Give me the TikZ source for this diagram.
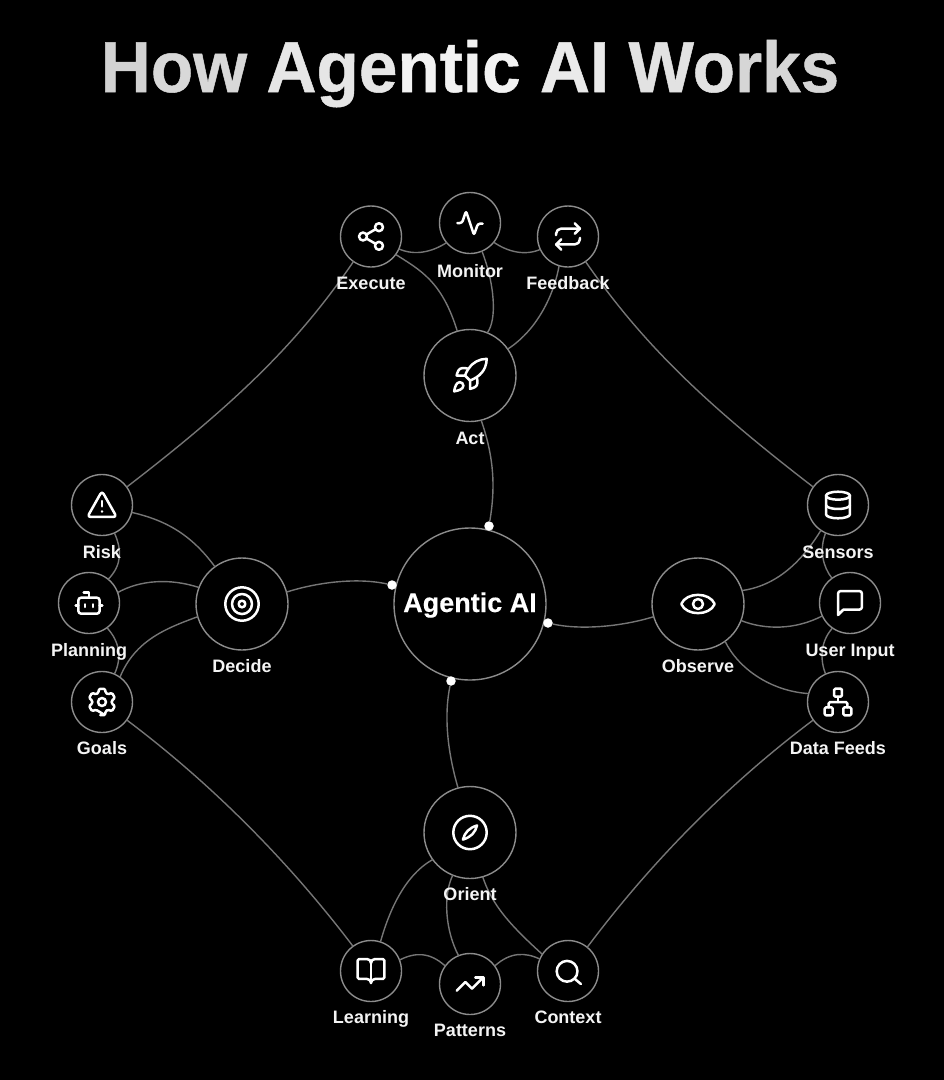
\documentclass[tikz,border=0pt]{standalone}
\usepackage{fontspec}
\setmainfont{Liberation Sans}
\definecolor{ringc}{HTML}{8C8C8C}
\definecolor{linkc}{HTML}{767676}
\definecolor{labelc}{HTML}{F4F4F4}
\newcommand{\drawicon}[3]{\begin{scope}[shift={(#1)},x=#2pt,y=-#2pt,shift={(-12,-12)},glyph]#3\end{scope}}
\tikzset{
  ring/.style={circle,draw=ringc,line width=1.4pt,inner sep=0pt,outer sep=0pt},
  core/.style={ring,minimum size=152pt},
  hub/.style={ring,minimum size=92pt},
  leaf/.style={ring,minimum size=61pt},
  link/.style={draw=linkc,line width=1.4pt},
  dotmark/.style={circle,fill=white,inner sep=0pt,minimum size=9.5pt},
  lab/.style={anchor=base,inner sep=0pt,text=labelc,font=\fontsize{18}{20}\selectfont\bfseries},
  glyph/.style={draw=white,line width=2.5pt,line cap=round,line join=round},
}
\begin{document}
\begin{tikzpicture}[x=1pt,y=-1pt]
\fill[black] (0,0) rectangle (944,1080);
\useasboundingbox (0,0) rectangle (944,1080);
% title
\node[anchor=base,inner sep=0pt,xscale=.963,font=\fontsize{72}{80}\selectfont\bfseries\addfontfeature{FakeBold=0.7}] (title) at (470,92)
 {\textcolor[HTML]{D2D2D2}{H}\textcolor[HTML]{D8D8D8}{ow} \textcolor[HTML]{E6E6E6}{Age}\textcolor[HTML]{F2F2F2}{ntic} \textcolor[HTML]{EAEAEA}{AI} \textcolor[HTML]{E2E2E2}{Wo}\textcolor[HTML]{D6D6D6}{rks}};
% circles
\node[core] (agent) at (470,604) {};
\node[hub] (act) at (470,375.5) {};
\node[hub] (observe) at (698,604) {};
\node[hub] (decide) at (242,604) {};
\node[hub] (orient) at (470,832.5) {};
\node[leaf] (execute) at (371,236.5) {};
\node[leaf] (monitor) at (470,223) {};
\node[leaf] (feedback) at (568,236.5) {};
\node[leaf] (risk) at (102,505) {};
\node[leaf] (planning) at (89,603) {};
\node[leaf] (goals) at (102,702) {};
\node[leaf] (sensors) at (838,505) {};
\node[leaf] (userinput) at (850,603) {};
\node[leaf] (datafeeds) at (838,702) {};
\node[leaf] (learning) at (371,971) {};
\node[leaf] (patterns) at (470,984) {};
\node[leaf] (context) at (568,971) {};
% dots
\node[dotmark] (d1) at (489,526) {};
\node[dotmark] (d2) at (392,585) {};
\node[dotmark] (d3) at (548,623) {};
\node[dotmark] (d4) at (451,681) {};
% connectors: hubs to centre
\draw[link] (d1) .. controls (495,490) and (495,460) .. (act.-76);
\draw[link] (d2) .. controls (355,577) and (315,583) .. (decide.15);
\draw[link] (d3) .. controls (580,630) and (620,627) .. (observe.196);
\draw[link] (d4) .. controls (444,715) and (447,750) .. (orient.105);
% act group
\draw[link] (act.106.5) .. controls (442,281) and (420,270) .. (execute.-36);
\draw[link] (act.68) .. controls (497,320) and (495,285) .. (monitor.-67.5);
\draw[link] (act.35) .. controls (540,328) and (555,290) .. (feedback.-107);
\draw[link] (execute.-24) .. controls (415,256) and (432,252) .. (monitor.220);
\draw[link] (monitor.-39) .. controls (508,252) and (525,256) .. (feedback.205);
% decide group
\draw[link] (risk.-14.5) .. controls (165,520) and (191,534) .. (decide.126);
\draw[link] (planning.20) .. controls (140,580) and (170,578) .. (decide.159);
\draw[link] (goals.54) .. controls (135,640) and (167,628) .. (decide.196);
\draw[link] (risk.-66) .. controls (122,550) and (122,565) .. (planning.51);
\draw[link] (planning.-54) .. controls (120,642) and (122,658) .. (goals.66);
% observe group
\draw[link] (observe.17) .. controls (781,585) and (805,556) .. (sensors.236);
\draw[link] (observe.-21) .. controls (765,630) and (795,630) .. (userinput.205);
\draw[link] (observe.-54) .. controls (738,668) and (770,691) .. (datafeeds.164);
\draw[link] (sensors.246) .. controls (819,550) and (823,567) .. (userinput.126);
\draw[link] (userinput.235) .. controls (820,642) and (820,660) .. (datafeeds.114);
% orient group
\draw[link] (orient.216) .. controls (403,876) and (388,915) .. (learning.72);
\draw[link] (orient.248) .. controls (443,895) and (445,930) .. (patterns.112);
\draw[link] (orient.-74) .. controls (492,905) and (510,925) .. (context.147);
\draw[link] (learning.21) .. controls (415,952) and (430,952) .. (patterns.144);
\draw[link] (patterns.36) .. controls (510,952) and (525,952) .. (context.157);
% outer links
\draw[link] (execute.235) .. controls (300,340) and (240,400) .. (risk.36);
\draw[link] (feedback.-55) .. controls (640,340) and (700,400) .. (sensors.144);
\draw[link] (goals.-36) .. controls (200,775) and (280,850) .. (learning.126);
\draw[link] (datafeeds.216) .. controls (740,775) and (660,850) .. (context.51);
% labels
\node[anchor=base,inner sep=0pt,text=white,font=\fontsize{27}{30}\selectfont\bfseries\addfontfeature{FakeBold=0.3}] (tagent) at (470,612) {Agentic AI};
\node[lab] (lact) at (470,444) {Act};
\node[lab] (ldecide) at (242,672) {Decide};
\node[lab] (lobserve) at (698,672) {Observe};
\node[lab] (lorient) at (470,900) {Orient};
\node[lab] (lexecute) at (371,289) {Execute};
\node[lab] (lmonitor) at (470,277) {Monitor};
\node[lab] (lfeedback) at (568,289) {Feedback};
\node[lab] (lrisk) at (102,558) {Risk};
\node[lab] (lplanning) at (89,656) {Planning};
\node[lab] (lgoals) at (102,754) {Goals};
\node[lab] (lsensors) at (838,558) {Sensors};
\node[lab] (luserinput) at (850,656) {User Input};
\node[lab] (ldatafeeds) at (838,754) {Data Feeds};
\node[lab] (llearning) at (371,1023) {Learning};
\node[lab] (lpatterns) at (470,1036) {Patterns};
\node[lab] (lcontext) at (568,1023) {Context};
% icons
\drawicon{act}{1.67}{
 \draw (4.5,16.5) .. controls (3,17.76) and (2.5,21.5) .. (2.5,21.5) .. controls (2.5,21.5) and (6.24,21) .. (7.5,19.5) .. controls (8.21,18.66) and (8.2,17.37) .. (7.41,16.59) .. controls (6.6,15.8) and (5.3,15.8) .. cycle;
 \draw (12,15) -- (9,12) .. controls (9.5,10.6) and (10.2,9.3) .. (11,8.05) .. controls (13.3,4.4) and (17.5,2) .. (22,2) .. controls (22,4.72) and (21.22,9.5) .. (16,13) .. controls (14.7,13.8) and (13.4,14.5) .. cycle;
 \draw (9,12) -- (4,12) .. controls (4,12) and (4.55,8.97) .. (6,8) .. controls (7.62,6.92) and (11,8) .. (11,8);
 \draw (12,15) -- (12,20) .. controls (12,20) and (15.03,19.45) .. (16,18) .. controls (17.08,16.38) and (16,13) .. (16,13);
}
\drawicon{decide}{1.67}{
 \draw (12,12) circle (10);
 \draw (12,12) circle (6);
 \draw (12,12) circle (2);
}
\drawicon{observe}{1.67}{
 \draw (2,12) .. controls (5,4.7) and (19,4.7) .. (22,12) .. controls (19,19.3) and (5,19.3) .. cycle;
 \draw (12,12) circle (3);
}
\drawicon{orient}{1.67}{
 \draw (12,12) circle (10);
 \draw (16.24,7.76) .. controls (15.2,12) and (12.5,14.8) .. (7.76,16.24) .. controls (8.8,12) and (11.5,9.2) .. cycle;
}
\drawicon{execute}{1.33}{
 \draw (18,5) circle (3);
 \draw (6,12) circle (3);
 \draw (18,19) circle (3);
 \draw (8.59,13.51) -- (15.42,17.49);
 \draw (15.41,6.51) -- (8.59,10.49);
}
\drawicon{monitor}{1.33}{
 \draw[rounded corners=2.2pt] (21.5,12.5) -- (18,12.5) -- (15,21) -- (9,3) -- (6,12) -- (2.5,12);
}
\drawicon{feedback}{1.33}{
 \draw (17,2) -- (21,6) -- (17,10);
 \draw (3,11) -- (3,10) .. controls (3,7.8) and (4.8,6) .. (7,6) -- (21,6);
 \draw (7,22) -- (3,18) -- (7,14);
 \draw (21,13) -- (21,14) .. controls (21,16.2) and (19.2,18) .. (17,18) -- (3,18);
}
\drawicon{risk}{1.33}{
 \draw[rounded corners=3.2pt] (12,1.5) -- (23,21) -- (1,21) -- cycle;
 \draw (12,9) -- (12,13);
 \draw (12,17) -- (12.01,17);
}
\drawicon{planning}{1.33}{
 \draw (12,8) -- (12,4) -- (8,4);
 \draw[rounded corners=2.7pt] (4,8) rectangle (20,20);
 \draw (2,14) -- (4,14);
 \draw (20,14) -- (22,14);
 \draw (15,13) -- (15,15);
 \draw (9,13) -- (9,15);
}
\drawicon{goals}{1.33}{
 \draw (12,12) circle (3);
 \begin{scope}[shift={(12,12)}]
 \draw[rounded corners=1.3pt] (77:10.2) \foreach \a in {90,30,-30,-90,-150,-210} { -- (\a+13:10.2) -- (\a-13:10.2) -- (\a-21:7.4) -- (\a-39:7.4) } -- cycle;
 \end{scope}
}
\drawicon{sensors}{1.33}{
 \draw (12,5) ellipse (9 and 3);
 \draw (3,5) -- (3,19) .. controls (3,20.66) and (7,22) .. (12,22) .. controls (17,22) and (21,20.66) .. (21,19) -- (21,5);
 \draw (3,12) .. controls (3,13.66) and (7,15) .. (12,15) .. controls (17,15) and (21,13.66) .. (21,12);
}
\drawicon{userinput}{1.33}{
 \draw (21,15) .. controls (21,16.1) and (20.1,17) .. (19,17) -- (7,17) -- (3,21) -- (3,5) .. controls (3,3.9) and (3.9,3) .. (5,3) -- (19,3) .. controls (20.1,3) and (21,3.9) .. (21,5) -- cycle;
}
\drawicon{datafeeds}{1.33}{
 \draw[rounded corners=1.3pt] (16,16) rectangle (22,22);
 \draw[rounded corners=1.3pt] (2,16) rectangle (8,22);
 \draw[rounded corners=1.3pt] (9,2) rectangle (15,8);
 \draw (5,16) -- (5,13) .. controls (5,12.45) and (5.45,12) .. (6,12) -- (18,12) .. controls (18.55,12) and (19,12.45) .. (19,13) -- (19,16);
 \draw (12,12) -- (12,8);
}
\drawicon{learning}{1.33}{
 \draw (12,6) -- (12,21);
 \draw (12,21) .. controls (12,19.3) and (10.7,18) .. (9,18) -- (3,18) .. controls (2.45,18) and (2,17.55) .. (2,17) -- (2,4) .. controls (2,3.45) and (2.45,3) .. (3,3) -- (9,3) .. controls (10.7,3) and (12,4.3) .. (12,6) .. controls (12,4.3) and (13.3,3) .. (15,3) -- (21,3) .. controls (21.55,3) and (22,3.45) .. (22,4) -- (22,17) .. controls (22,17.55) and (21.55,18) .. (21,18) -- (15,18) .. controls (13.3,18) and (12,19.3) .. (12,21);
}
\drawicon{patterns}{1.33}{
 \draw (22,7) -- (13.5,15.5) -- (8.5,10.5) -- (2,17);
 \draw (16,7) -- (22,7) -- (22,13);
}
\drawicon{context}{1.33}{
 \draw (11.3,12.2) circle (7.8);
 \draw (21.7,21.8) -- (17,17.8);
}
\end{tikzpicture}
\end{document}
